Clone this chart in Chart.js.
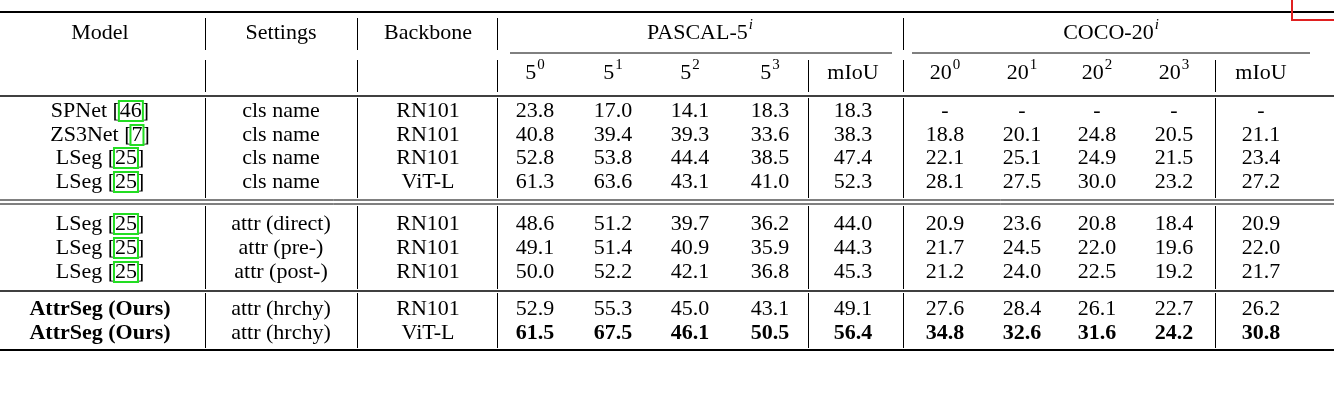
<!DOCTYPE html>
<html><head><meta charset="utf-8">
<script src="https://cdn.jsdelivr.net/npm/chart.js@4"></script>
<style>html,body{margin:0;padding:0;background:#fff}</style>
</head><body>
<canvas id="c" width="1334" height="411"></canvas>
<script>
const models = ["SPNet","ZS3Net","LSeg","LSeg","LSeg","LSeg","LSeg","AttrSeg (Ours)","AttrSeg (Ours)"];
const cites = ["46","7","25","25","25","25","25","",""];
const settings = ["cls name","cls name","cls name","cls name","attr (direct)","attr (pre-)","attr (post-)","attr (hrchy)","attr (hrchy)"];
const backbones = ["RN101","RN101","RN101","ViT-L","RN101","RN101","RN101","RN101","ViT-L"];
const pascal = [
 ["23.8","17.0","14.1","18.3","18.3"],
 ["40.8","39.4","39.3","33.6","38.3"],
 ["52.8","53.8","44.4","38.5","47.4"],
 ["61.3","63.6","43.1","41.0","52.3"],
 ["48.6","51.2","39.7","36.2","44.0"],
 ["49.1","51.4","40.9","35.9","44.3"],
 ["50.0","52.2","42.1","36.8","45.3"],
 ["52.9","55.3","45.0","43.1","49.1"],
 ["61.5","67.5","46.1","50.5","56.4"]];
const coco = [
 ["-","-","-","-","-"],
 ["18.8","20.1","24.8","20.5","21.1"],
 ["22.1","25.1","24.9","21.5","23.4"],
 ["28.1","27.5","30.0","23.2","27.2"],
 ["20.9","23.6","20.8","18.4","20.9"],
 ["21.7","24.5","22.0","19.6","22.0"],
 ["21.2","24.0","22.5","19.2","21.7"],
 ["27.6","28.4","26.1","22.7","26.2"],
 ["34.8","32.6","31.6","24.2","30.8"]];
const boldModelRows = [7,8];
const boldValueRows = [8];
const subHeads = [["5","0"],["5","1"],["5","2"],["5","3"],["mIoU",""],["20","0"],["20","1"],["20","2"],["20","3"],["mIoU",""]];

const rowY = [111,135,158,182,224,248,272,309,333];
const colX = [535,613,690,770,853,945,1022,1097,1174,1261];

const tablePlugin = {
  id:'table',
  afterDraw(chart){
    const c = chart.ctx, xs = chart.scales.x, ys = chart.scales.y;
    const X = v=>xs.getPixelForValue(v), Y = v=>ys.getPixelForValue(v);
    c.save();
    c.fillStyle='#000'; c.strokeStyle='#000';
    const font = (b,s,it)=>(it?'italic ':'')+(b?'bold ':'')+s+'px "Liberation Serif", "Times New Roman", serif';
    function txt(t,x,y,b){c.font=font(b,22);c.textAlign='center';c.textBaseline='middle';c.fillText(t,X(x),Y(y));}
    function sup(base,s,x,y,it){
      c.font=font(false,22); const w1=c.measureText(base).width;
      c.font=font(false,15,it); const w2=s?c.measureText(s).width+1:0;
      const left=X(x)-(w1+w2)/2;
      c.font=font(false,22);c.textAlign='left';c.textBaseline='middle';c.fillText(base,left,Y(y));
      if(s){c.font=font(false,15,it);c.fillText(s,left+w1+1,Y(y)-8);}
    }
    function hline(x1,x2,y,w){c.lineWidth=w;c.beginPath();c.moveTo(X(x1),Y(y));c.lineTo(X(x2),Y(y));c.stroke();}
    function vline(x,y1,y2){c.lineWidth=1;c.beginPath();c.moveTo(X(x)+0.5,Y(y1));c.lineTo(X(x)+0.5,Y(y2));c.stroke();}
    hline(0,1334,12,2); hline(0,1334,96,1.5); hline(0,1334,200,1); hline(0,1334,204,1);
    hline(0,1334,291,1.5); hline(0,1334,350,2);
    hline(510,892,53,1); hline(912,1310,53,1);
    c.strokeStyle='#e02020';c.lineWidth=2;c.strokeRect(X(1292),Y(-2),60,Y(20)-Y(-2));c.strokeStyle='#000';
    [205,357,497,903].forEach(x=>{vline(x,18,50);vline(x,60,92);});
    [808,1215].forEach(x=>vline(x,60,92));
    [[98,198],[206,289],[293,348]].forEach(([a,b])=>[205,357,497,808,903,1215].forEach(x=>vline(x,a,b)));
    txt('Model',100,33);txt('Settings',281,33);txt('Backbone',428,33);
    sup('PASCAL-5','i',700,33,true);sup('COCO-20','i',1111,33,true);
    subHeads.forEach((h,i)=>sup(h[0],h[1],colX[i],73,false));
    rowY.forEach((y,r)=>{
      const bm=boldModelRows.includes(r), bv=boldValueRows.includes(r);
      c.font=font(bm,22);
      const name=models[r];
      if(cites[r]){
        const full=name+' ['+cites[r]+']';
        const fw=c.measureText(full).width;
        const left=X(100)-fw/2;
        c.textAlign='left';c.textBaseline='middle';
        c.fillText(full,left,Y(y));
        const ob=c.measureText(name+' [').width, dw=c.measureText(cites[r]).width;
        c.strokeStyle='#22dd22';c.lineWidth=2;c.strokeRect(left+ob-1,Y(y)-10,dw+2,20);c.strokeStyle='#000';
      } else txt(name,100,y,bm);
      txt(settings[r],281,y,false);
      txt(backbones[r],428,y,false);
      pascal[r].concat(coco[r]).forEach((v,i)=>txt(v,colX[i],y,bv));
    });
    c.restore();
  }
};
new Chart(document.getElementById('c'),{
  type:'scatter',
  data:{datasets:[{data:[],pointRadius:0}]},
  options:{responsive:false,animation:false,layout:{padding:0},
    plugins:{legend:{display:false},tooltip:{enabled:false}},
    scales:{x:{type:'linear',min:0,max:1334,display:false},y:{type:'linear',min:0,max:411,reverse:true,display:false}}},
  plugins:[tablePlugin]
});
</script>
</body></html>
